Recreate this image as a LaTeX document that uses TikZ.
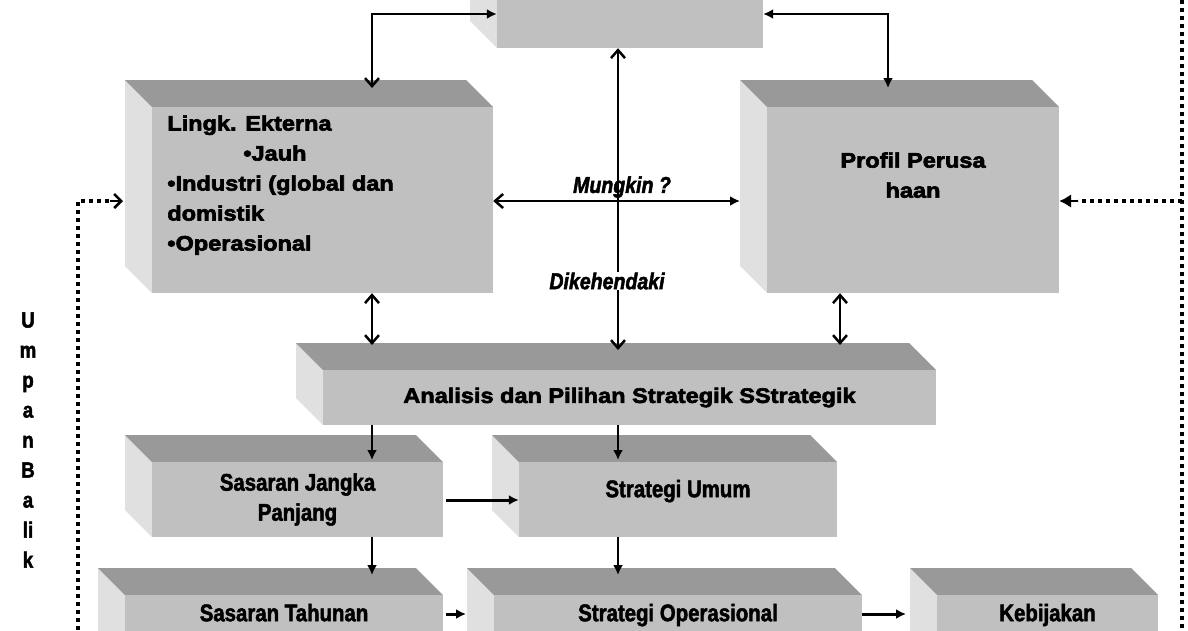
\documentclass[tikz,border=0pt]{standalone}
\usepackage{fontspec}
\setmainfont{Liberation Sans}
\newfontfamily\blackf[FakeStretch=1.12,FakeBold=3]{Liberation Sans Bold}
\newfontfamily\narrowf[FakeStretch=0.85,FakeBold=2]{Liberation Sans Bold}
\usetikzlibrary{arrows.meta}
\definecolor{frontc}{HTML}{C0C0C0}
\definecolor{topc}{HTML}{999999}
\definecolor{sidec}{HTML}{E0E0E0}
\tikzset{
  ar/.style={line width=2.5pt,-{Latex[length=10pt,width=10pt]}},
  dar/.style={line width=2.5pt,{Straight Barb[length=8pt,width=14pt]}-{Straight Barb[length=8pt,width=14pt]}},
  dot/.style={line width=4pt,dash pattern=on 4pt off 4pt},
  big/.style={font=\blackf\fontsize{21}{30}\selectfont},
  nar/.style={font=\narrowf\fontsize{24}{30}\selectfont},
  lab/.style={font=\narrowf\itshape\fontsize{23}{24}\selectfont}
}
\newcommand\blk[7]{%
  \fill[sidec] (#2-27,#3-27) -- (#2,#3) -- (#2,#5) -- (#2-27,#5-27) -- cycle;
  \fill[topc] (#2-27,#3-27) -- (#4-27,#3-27) -- (#4,#3) -- (#2,#3) -- cycle;
  \node[fill=frontc,inner sep=0pt,minimum width={#4pt-#2pt},minimum height={#5pt-#3pt},align=center,#6] (#1) at ({(#2+#4)/2},{(#3+#5)/2}) {#7};}
\begin{document}
\begin{tikzpicture}[x=1pt,y=-1pt]
\useasboundingbox (0,0) rectangle (1188,630);
\clip (0,0) rectangle (1188,630);
\blk{top}{497}{-40}{763}{48}{}{}
\blk{lingk}{152}{107}{493}{293}{big}{}
\node[big,anchor=north west,align=left] at (lingk.north west) [xshift=12pt,yshift=-5pt] {Lingk. Ekterna\\\hspace{76pt}•Jauh\\•Industri (global dan\\domistik\\•Operasional};
\blk{profil}{767}{107}{1059}{293}{big,text depth=50pt}{Profil Perusa\\haan}
\blk{anal}{323}{370}{936}{425}{big}{Analisis dan Pilihan Strategik SStrategik}
\blk{sjp}{152}{462}{443}{537}{nar}{Sasaran Jangka\\Panjang}
\blk{su}{519}{462}{837}{537}{nar,text depth=22pt}{Strategi Umum}
\blk{st}{125}{595}{443}{680}{nar,text depth=50pt}{Sasaran Tahunan}
\blk{so}{494}{595}{862}{680}{nar,text depth=50pt}{Strategi Operasional}
\blk{keb}{937}{595}{1158}{680}{nar,text depth=50pt}{Kebijakan}
% connectors
\draw[line width=2.5pt,{Straight Barb[length=8pt,width=14pt]}-{Latex[length=10pt,width=10pt]}] (372,88) -- (372,14) -- (top.west |- 0,14);
\draw[line width=2.5pt,{Latex[length=10pt,width=10pt]}-{Latex[length=10pt,width=10pt]}] (top.east |- 0,14) -- (888,14) -- (888,88);
\draw[line width=2.5pt,{Straight Barb[length=8pt,width=14pt]}-{Latex[length=10pt,width=10pt]}] (lingk.east |- 0,201) -- (740,201);
\draw[dar] (top.south -| 618,0) -- (618,350);
\node[lab] at (622,187) {Mungkin ?};
\node[lab,fill=white,inner sep=1pt] at (607,281) {Dikehendaki};
\draw[dar] (lingk.south -| 372,0) -- (372,345);
\draw[dar] (profil.south -| 840,0) -- (840,345);
\draw[ar,line width=2pt] (anal.south -| 372,0) -- (372,460);
\draw[ar,line width=2pt] (anal.south -| 618,0) -- (618,460);
\draw[ar,line width=3pt] (446,500) -- (su.west |- 0,500);
\draw[ar,line width=2pt] (sjp.south -| 372,0) -- (372,575);
\draw[ar,line width=2pt] (su.south -| 618,0) -- (618,575);
\draw[ar,line width=3pt] (446,614) -- (466,614);
\draw[ar,line width=3pt] (so.east |- 0,614) -- (906,614);
% feedback
\draw[dot] (78,630) -- (78,201) -- (110,201);
\draw[line width=2.5pt,-{Straight Barb[length=7pt,width=14pt]}] (110,201) -- (123,201);
\draw[dot] (1182,0) -- (1182,630);
\draw[dot] (1182,201) -- (1078,201);
\draw[line width=2.5pt,-{Latex[length=12pt,width=14pt]}] (1078,201) -- (profil.east |- 0,201);
\node[font=\narrowf\fontsize{22}{30}\selectfont,align=center] at (28,440) {U\\m\\p\\a\\n\\B\\a\\li\\k};
\end{tikzpicture}
\end{document}
